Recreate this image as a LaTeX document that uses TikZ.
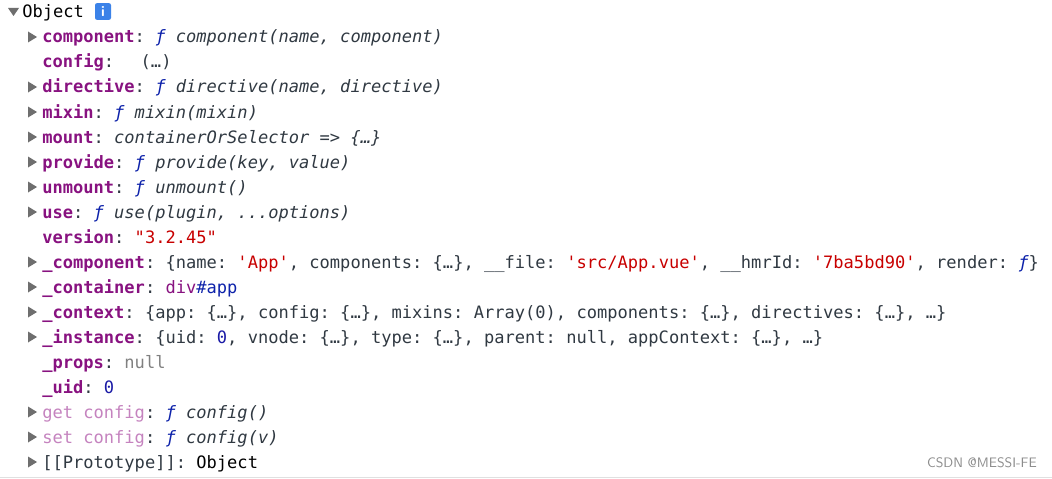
\documentclass[tikz,border=0pt]{standalone}
\usepackage{fontspec}
\setmonofont{DejaVu Sans Mono}
\setmainfont{Liberation Sans}
\definecolor{key}{HTML}{881280}
\definecolor{akey}{HTML}{C583BF}
\definecolor{txt}{HTML}{303942}
\definecolor{str}{HTML}{C80000}
\definecolor{num}{HTML}{1A1AA6}
\definecolor{fn}{HTML}{0D22AA}
\definecolor{nul}{HTML}{808080}
\definecolor{tri}{HTML}{6E6E6E}
\definecolor{info}{HTML}{3B82E8}
\newcommand\Kx[1]{\textcolor{key}{\bfseries #1}\textcolor{txt}{: }}
\newcommand\Ax[1]{\textcolor{akey}{#1}\textcolor{txt}{: }}
\newcommand\Fx[1]{\textcolor{fn}{\itshape ƒ} \textit{#1}}
\newcommand\Sx[1]{\textcolor{str}{'#1'}}
\newcommand\Nx[1]{\textcolor{num}{#1}}
\begin{document}
\begin{tikzpicture}[x=0.75pt,y=-0.75pt,
  row/.style={anchor=base west,inner sep=0pt,font=\ttfamily\fontsize{12.8pt}{14pt}\selectfont,text=txt},
  tri/.style={fill=tri}]
\useasboundingbox (0,0) rectangle (1052,478);
\fill[white] (0,0) rectangle (1052,478);
\draw[black!12] (0,477) -- (1052,477);
% header
\fill[tri] (8,8) -- (19,8) -- (13.5,16) -- cycle;
\node[row] (r0) at (22,18) {\textcolor{black}{Object}};
\node[fill=info,rounded corners=1.5pt,minimum width=12pt,minimum height=12.5pt,inner sep=0pt,text=white,font=\sffamily\bfseries\fontsize{11pt}{11pt}\selectfont] (info) at (103,11.5) {i};
\foreach \i in {1,3,4,5,6,7,8,10,11,12,13,16,17,18}{
  \fill[tri] (28,{12+25*\i-5.5}) -- (37,{12+25*\i}) -- (28,{12+25*\i+5.5}) -- cycle;}
\node[row] (r1) at (42,43) {\Kx{component}\Fx{component(name, component)}};
\node[row] (r2) at (42,68) {\Kx{config}\textcolor{txt}{\hspace{0.35em} (…)}};
\node[row] (r3) at (42,93) {\Kx{directive}\Fx{directive(name, directive)}};
\node[row] (r4) at (42,118) {\Kx{mixin}\Fx{mixin(mixin)}};
\node[row] (r5) at (42,143) {\Kx{mount}\textit{containerOrSelector => \{…\}}};
\node[row] (r6) at (42,168) {\Kx{provide}\Fx{provide(key, value)}};
\node[row] (r7) at (42,193) {\Kx{unmount}\Fx{unmount()}};
\node[row] (r8) at (42,218) {\Kx{use}\Fx{use(plugin, ...options)}};
\node[row] (r9) at (42,243) {\Kx{version}\textcolor{str}{"3.2.45"}};
\node[row] (r10) at (42,268) {\Kx{\_component}\{name: \Sx{App}, components: \{…\}, \_\_file: \Sx{src/App.vue}, \_\_hmrId: \Sx{7ba5bd90}, render: \textcolor{fn}{\itshape ƒ}\}};
\node[row] (r11) at (42,293) {\Kx{\_container}\textcolor{key}{div}\textcolor{fn}{\#app}};
\node[row] (r12) at (42,318) {\Kx{\_context}\{app: \{…\}, config: \{…\}, mixins: Array(0), components: \{…\}, directives: \{…\}, …\}};
\node[row] (r13) at (42,343) {\Kx{\_instance}\{uid: \Nx{0}, vnode: \{…\}, type: \{…\}, parent: null, appContext: \{…\}, …\}};
\node[row] (r14) at (42,368) {\Kx{\_props}\textcolor{nul}{null}};
\node[row] (r15) at (42,393) {\Kx{\_uid}\Nx{0}};
\node[row] (r16) at (42,418) {\Ax{get config}\Fx{config()}};
\node[row] (r17) at (42,443) {\Ax{set config}\Fx{config(v)}};
\node[row] (r18) at (42,468) {[[Prototype]]\textcolor{txt}{: }\textcolor{black}{Object}};
\node[anchor=base east,inner sep=0pt,text=black!45,font=\sffamily\fontsize{10.3pt}{11pt}\selectfont] (wm) at (1037,467.5) {CSDN @MESSI-FE};
\end{tikzpicture}
\end{document}
